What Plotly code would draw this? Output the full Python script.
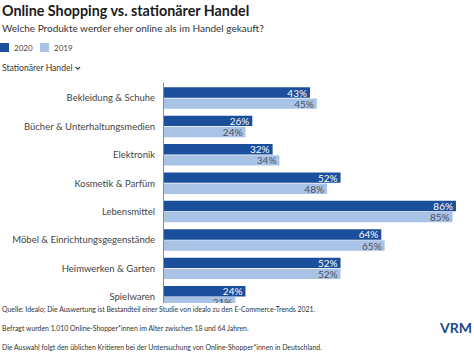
import plotly.graph_objects as go

categories = ["Bekleidung & Schuhe", "Bücher & Unterhaltungsmedien", "Elektronik",
              "Kosmetik & Parfüm", "Lebensmittel", "Möbel & Einrichtungsgegenstände",
              "Heimwerken & Garten", "Spielwaren"]
v2020 = [43, 26, 32, 52, 86, 64, 52, 24]
v2019 = [45, 24, 34, 48, 85, 65, 52, 21]
series_names = ["2020", "2019"]

title = "Online Shopping vs. stationärer Handel"
subtitle = "Welche Produkte werder eher online als im Handel gekauft?"
dropdown = "Stationärer Handel"
footer = [
    "Quelle: Idealo; Die Auswertung ist Bestandteil einer Studie von idealo zu den E-Commerce-Trends 2021.",
    "Befragt wurden 1.010 Online-Shopper*innen im Alter zwischen 18 und 64 Jahren.",
    "Die Auswahl folgt den üblichen Kritieren bei der Untersuchung von Online-Shopper*innen in Deutschland.",
]

W, H = 474, 355
L, R, T, B = 164, 0, 83, 52
PW, PH = W - L - R, H - T - B

DARK = "#1b4e9b"
LIGHT = "#a8c3e6"
FONT = "Lato"


def px(x):
    return (x - L) / PW


def py(y):
    return (H - B - y) / PH


fig = go.Figure()
fig.add_trace(go.Bar(
    y=categories, x=v2020, name=series_names[0], orientation="h",
    marker=dict(color=DARK, line=dict(width=0)),
    texttemplate="%{x}%", textposition="inside", insidetextanchor="end",
    textfont=dict(color="white", size=10, family=FONT), hoverinfo="skip",
))
fig.add_trace(go.Bar(
    y=categories, x=v2019, name=series_names[1], orientation="h",
    marker=dict(color=LIGHT, line=dict(width=0)),
    texttemplate="%{x}%", textposition="inside", insidetextanchor="end",
    textfont=dict(color="#4a5260", size=10, family=FONT), hoverinfo="skip",
))

ann = []
ann.append(dict(text="<b>" + title + "</b>", x=px(0), y=py(11), xref="paper", yref="paper",
                xanchor="left", yanchor="middle", showarrow=False,
                font=dict(size=14.3, color="#1a1a1a", family=FONT)))
ann.append(dict(text=subtitle, x=px(0), y=py(28), xref="paper", yref="paper",
                xanchor="left", yanchor="middle", showarrow=False,
                font=dict(size=10, color="#333333", family=FONT)))
# legend
leg_x = [0, 40]
shapes = []
for i, (nm, col) in enumerate(zip(series_names, [DARK, LIGHT])):
    x0 = leg_x[i]
    shapes.append(dict(type="rect", xref="paper", yref="paper",
                       x0=px(x0), x1=px(x0 + 9), y0=py(52), y1=py(43),
                       fillcolor=col, line=dict(width=0)))
    ann.append(dict(text=nm, x=px(x0 + 12), y=py(47.5), xref="paper", yref="paper",
                    xanchor="left", yanchor="middle", showarrow=False,
                    font=dict(size=8, color="#444444", family=FONT)))
ann.append(dict(text=dropdown, x=px(0), y=py(68), xref="paper", yref="paper",
                xanchor="left", yanchor="middle", showarrow=False,
                font=dict(size=8.6, color="#333333", family=FONT)))
# chevron
shapes.append(dict(type="path", xref="paper", yref="paper",
                   path="M {} {} L {} {} L {} {}".format(px(75.5), py(66.8), px(77.8), py(69.1), px(80.1), py(66.8)),
                   line=dict(color="#333333", width=1.1)))
for i, (t, yy) in enumerate(zip(footer, [309, 328, 347])):
    ann.append(dict(text=t, x=px(0), y=py(yy), xref="paper", yref="paper",
                    xanchor="left", yanchor="middle", showarrow=False,
                    font=dict(size=6.9, color="#333333", family=FONT)))
ann.append(dict(text="<b>VRM</b>", x=px(474), y=py(327), xref="paper", yref="paper",
                xanchor="right", yanchor="middle", showarrow=False,
                font=dict(size=14, color="#1d4b8c", family=FONT)))

fig.update_layout(
    width=W, height=H,
    margin=dict(l=L, r=R, t=T, b=B, pad=0),
    paper_bgcolor="white", plot_bgcolor="white",
    barmode="group", bargap=0.22, bargroupgap=0.06,
    showlegend=False,
    uniformtext=dict(minsize=10, mode="show"),
    annotations=ann, shapes=shapes,
    font=dict(family=FONT),
    xaxis=dict(range=[0, PW / 339.5 * 100], visible=False, fixedrange=True),
    yaxis=dict(categoryorder="array", categoryarray=categories,
               range=[7.22, -0.53], showline=True, linecolor="#8a8a8a", linewidth=1,
               ticks="", showgrid=False, zeroline=False, automargin=False, fixedrange=True,
               tickfont=dict(size=9.5, color="#444444", family=FONT), ticklabelstandoff=6),
)

fig.write_html("out.html", config={"displayModeBar": False},
               post_script="document.body.style.margin='0';document.body.style.overflow='hidden';")
